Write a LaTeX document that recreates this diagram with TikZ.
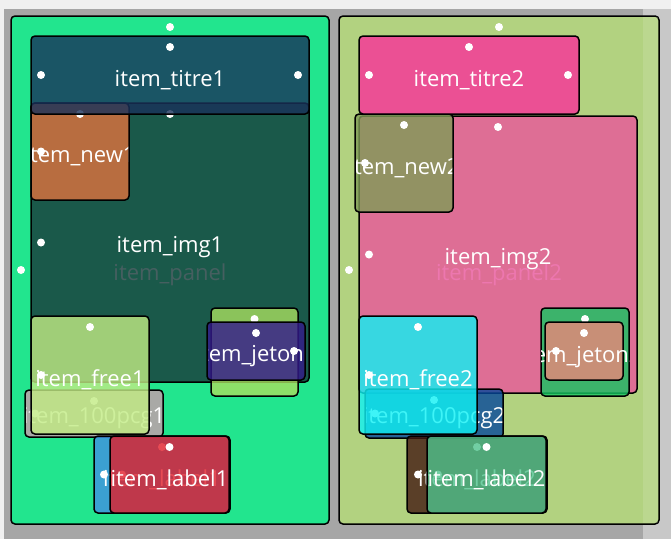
\documentclass[tikz,border=0pt]{standalone}
\usepackage{fontspec}
\usepackage{tikz}
\newfontfamily\itemfont{Open Sans}

% colours of the boxes (filled at 0.8)
\definecolor{bgtop}{RGB}{240,240,240}
\definecolor{bggray}{RGB}{166,166,166}
\definecolor{bglight}{RGB}{200,200,200}
\definecolor{panA}{RGB}{34,229,142}
\definecolor{imgA}{RGB}{24,55,57}
\definecolor{newA}{RGB}{224,114,62}
\definecolor{titA}{RGB}{25,49,91}
\definecolor{pcgA}{RGB}{203,154,172}
\definecolor{freeA}{RGB}{194,236,132}
\definecolor{jetgA}{RGB}{168,222,96}
\definecolor{jetnA}{RGB}{52,26,140}
\definecolor{backA}{RGB}{66,143,227}
\definecolor{labA}{RGB}{225,30,42}
\definecolor{panB}{RGB}{178,210,128}
\definecolor{imgB}{RGB}{233,85,155}
\definecolor{newB}{RGB}{127,155,87}
\definecolor{titB}{RGB}{250,48,153}
\definecolor{pcgB}{RGB}{6,72,155}
\definecolor{freeB}{RGB}{14,242,245}
\definecolor{jetgB}{RGB}{20,197,97}
\definecolor{jetoB}{RGB}{235,135,123}
\definecolor{backB}{RGB}{68,27,18}
\definecolor{labB}{RGB}{78,194,140}

\newcommand\topdot{\fill[spot] ([yshift=-11pt]path picture bounding box.north) circle[radius=4pt];}
\newcommand\leftdot[1][10pt]{\fill[spot] ([xshift=#1]path picture bounding box.west) circle[radius=4pt];}
\newcommand\rightdot{\fill[spot] ([xshift=-11pt]path picture bounding box.east) circle[radius=4pt];}
\newcommand\itemtext[2]{\node[lbl] (#1) at (path picture bounding box.center) {#2};}

\begin{document}
\begin{tikzpicture}[x=1pt, y=-1pt,
    box/.style={draw, line width=1.5pt, rounded corners=4pt, inner sep=0pt, fill opacity=0.8},
    lbl/.style={text=white, font=\itemfont\fontsize{22}{26}\selectfont, fill opacity=1, text opacity=1, inner sep=0pt, yshift=-5pt},
    spot/.style={fill=white, fill opacity=1}]
    \useasboundingbox (0,0) rectangle (671,539);
    % Background
    \fill[bgtop] (0,0) rectangle (671,539);
    \fill[bggray] (4,9) rectangle (643,539);
    \fill[bglight] (643,9) rectangle (671,539);

    % Nodes {panel1, img1, new1, titre1, 100pcg1, free1, jeton1, label1}
    \node [box, fill=panA, fill opacity=1, minimum width=318pt, minimum height=508pt,
           path picture={\itemtext{t-panel1}{item\_panel}\topdot\leftdot}]          (panel1)  at (170,270)   {};
    \node [box, fill=imgA, minimum width=278pt, minimum height=279pt,
           path picture={\itemtext{t-img1}{item\_img1}\topdot\leftdot}]             (img1)    at (170,242.5) {};
    \node [box, fill=newA, minimum width=98pt, minimum height=97pt,
           path picture={\itemtext{t-new1}{item\_new1}\topdot\leftdot}]             (new1)    at (80,151.5)  {};
    \node [box, fill=titA, minimum width=278pt, minimum height=78pt,
           path picture={\itemtext{t-titre1}{item\_titre1}\topdot\leftdot\rightdot}] (titre1)  at (170,75)    {};
    \node [box, fill=pcgA, minimum width=138pt, minimum height=47pt,
           path picture={\itemtext{t-pcg1}{item\_100pcg1}\topdot\leftdot}]         (pcg1)    at (94,413.5)  {};
    \node [box, fill=freeA, minimum width=118pt, minimum height=118pt,
           path picture={\itemtext{t-free1}{item\_free1}\topdot\leftdot}]           (free1)   at (90,375)    {};
    \node [box, fill=jetgA, minimum width=87pt, minimum height=88pt,
           path picture={\topdot}]                                                  (jetg1)   at (254.5,352) {};
    \node [box, fill=jetnA, minimum width=98pt, minimum height=58pt,
           path picture={\itemtext{t-jeton1}{item\_jeton1}\topdot\rightdot}]        (jetn1)   at (256,351)   {};
    \node [box, fill=backA, minimum width=136pt, minimum height=77pt,
           path picture={\itemtext{t-back1}{item\_label1}\topdot\leftdot\leftdot[28pt]}] (back1) at (162,474.5) {};
    \node [box, fill=labA, minimum width=119pt, minimum height=77pt,
           path picture={\itemtext{t-label1}{item\_label1}\topdot}]                 (label1)  at (169.5,474.5) {};

    % Nodes {panel2, img2, new2, titre2, 100pcg2, free2, jeton2, label2}
    \node [box, fill=panB, fill opacity=1, minimum width=320pt, minimum height=508pt,
           path picture={\itemtext{t-panel2}{item\_panel2}\topdot\leftdot}]         (panel2)  at (499,270)   {};
    \fill [white, opacity=0.12] (643,17) rectangle (658,523);
    \node [box, fill=imgB, minimum width=278pt, minimum height=277pt,
           path picture={\itemtext{t-img2}{item\_img2}\topdot\leftdot}]             (img2)    at (498,254.5) {};
    \node [box, fill=newB, minimum width=98pt, minimum height=98pt,
           path picture={\itemtext{t-new2}{item\_new2}\topdot\leftdot}]             (new2)    at (404,163)   {};
    \node [box, fill=titB, minimum width=220pt, minimum height=78pt,
           path picture={\itemtext{t-titre2}{item\_titre2}\topdot\leftdot\rightdot}] (titre2)  at (469,75)    {};
    \node [box, fill=pcgB, minimum width=138pt, minimum height=49pt,
           path picture={\itemtext{t-pcg2}{item\_100pcg2}\topdot\leftdot}]         (pcg2)    at (434,413.5) {};
    \node [box, fill=freeB, minimum width=118pt, minimum height=118pt,
           path picture={\itemtext{t-free2}{item\_free2}\topdot\leftdot}]           (free2)   at (418,375)   {};
    \node [box, fill=jetgB, minimum width=88pt, minimum height=88pt,
           path picture={\topdot}]                                                  (jetg2)   at (585,352)   {};
    \node [box, fill=jetoB, minimum width=78pt, minimum height=58pt,
           path picture={\topdot\leftdot[11pt]}]                                    (jeto2)   at (584,351)   {};
    \begin{scope}
        \clip [rounded corners=4pt] (jetg2.south west) rectangle (jetg2.north east);
        \node [lbl, xshift=-4pt] (t-jeton2) at (jetg2.center) {item\_jeton2};
    \end{scope}
    \node [box, fill=backB, minimum width=140pt, minimum height=77pt,
           path picture={\itemtext{t-back2}{item\_label2}\topdot\leftdot[11pt]\leftdot[31pt]}] (back2) at (477,474.5) {};
    \node [box, fill=labB, minimum width=119pt, minimum height=77pt,
           path picture={\itemtext{t-label2}{item\_label2}\topdot}]                 (label2)  at (486.5,474.5) {};
\end{tikzpicture}
\end{document}
